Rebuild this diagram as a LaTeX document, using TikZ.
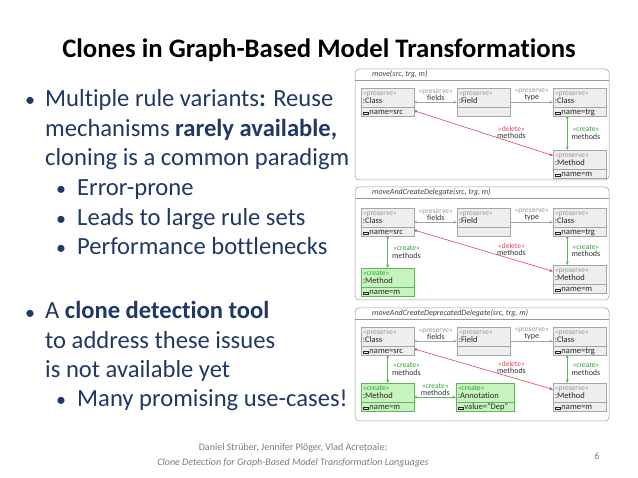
\documentclass[tikz,border=0pt]{standalone}
\usepackage{fontspec}
\setmainfont{Carlito}[Ligatures=NoCommon]
\usetikzlibrary{arrows.meta}

\definecolor{slideblue}{RGB}{31,56,100}
\definecolor{pregray}{RGB}{238,238,238}
\definecolor{preline}{RGB}{165,165,165}
\definecolor{stgray}{RGB}{150,150,150}
\definecolor{crfill}{RGB}{198,244,188}
\definecolor{crline}{RGB}{95,180,95}
\definecolor{crtext}{RGB}{40,160,40}
\definecolor{delred}{RGB}{225,70,85}
\definecolor{footgray}{RGB}{125,125,125}

% stereotypes, the attribute icon and struts for the object boxes
\newcommand{\stpres}{{\fontsize{7.5}{8}\selectfont\color{stgray}«preserve»}}
\newcommand{\stcr}{{\fontsize{7.5}{8}\selectfont\color{crtext}«create»}}
\newcommand{\stdel}{{\fontsize{7.5}{8}\selectfont\color{delred}«delete»}}
\newcommand{\attr}{{\fboxsep=0pt\fboxrule=0.4pt\fbox{\rule{0pt}{2.4pt}\hspace{4.5pt}}}\,}
\newcommand{\objtop}{\rule{0pt}{7pt}}
\newcommand{\objbot}{\rule[-1.5pt]{0pt}{0pt}}

\begin{document}
\begin{tikzpicture}[
    x=1pt, y=-1pt,
    compart/.style= {path picture={\draw[#1, line width=0.5pt]
                       ([yshift=-19pt]path picture bounding box.north west) --
                       ([yshift=-19pt]path picture bounding box.north east);}},
    obj/.style    = {anchor=north west, draw=preline, fill=pregray, compart=preline,
                     minimum height=28pt, text width=50pt, align=left,
                     inner xsep=1.5pt, inner ysep=0.25pt, line width=0.5pt,
                     font=\fontsize{8.5}{8.5}\selectfont, text=black!85},
    crobj/.style  = {obj, draw=crline, fill=crfill, compart=crline},
    panel/.style  = {draw=black!40, line width=0.5pt, rounded corners=4pt},
    edge/.style   = {draw=preline, line width=0.6pt},
    contain/.style= {edge, {Diamond[length=3pt,width=2.6pt]}-{Stealth[length=3.5pt,width=3pt]}},
    elabel/.style = {align=center, inner sep=1pt, font=\fontsize{8}{7.5}\selectfont, text=black!80},
    item/.style   = {anchor=base west, align=left, inner sep=0pt, text=slideblue,
                     font=\fontsize{24.6}{29.5}\selectfont},
    bul/.style    = {anchor=base, inner sep=0pt, text=slideblue, font=\fontsize{20}{24}\selectfont},
    foot/.style   = {anchor=base, inner sep=0pt, text=footgray, font=\fontsize{10}{12}\selectfont}
]
\useasboundingbox (0,0) rectangle (638,478);
\fill[white] (0,0) rectangle (638,478);

% title
\node[anchor=base, inner sep=0pt, font=\fontsize{26.7}{30}\selectfont\bfseries] (title) at (319,58)
    {Clones in Graph-Based Model Transformations};

% bullet points (multi-line items sit on their last baseline)
\node[bul] (b1) at (30,107) {•};
\node[item] (t1) at (45,166) {Multiple rule variants\textbf{:} Reuse\\
    mechanisms \textbf{rarely available,}\\cloning is a common paradigm};
\foreach \y/\t in {196/Error-prone, 226/Leads to large rule sets, 255/Performance bottlenecks} {
    \node[bul] (sb\y) at (61,\y) {•};
    \node[item] (st\y) at (77,\y) {\t};
}
\node[bul] (b2) at (30,320) {•};
\node[item] (t2) at (45,378) {A \textbf{clone detection tool}\\
    to address these issues\\is not available yet};
\node[bul] (sb407) at (61,407) {•};
\node[item] (st407) at (77,407) {Many promising use-cases!};

% rule panels
\foreach \p/\top/\bot/\name in {1/69/180/{move(src, trg, m)},
        2/187/300/{moveAndCreateDelegate(src, trg, m)},
        3/308/421/{moveAndCreateDeprecatedDelegate(src, trg, m)}} {
    \draw[panel] (355,\top) rectangle (609,\bot);
    \draw[draw=black!40, line width=0.5pt] (355,\top+11) -- (609,\top+11);
    \node[anchor=west, inner sep=0pt, font=\fontsize{8}{9}\selectfont\itshape, text=black!75]
        (name\p) at (372,\top+5.5) {\name};
}

% common upper row: Class -- fields --> Field -- type --> Class
\foreach \p/\y in {1/88, 2/208, 3/327} {
    \node[obj] (src\p) at (361,\y) {\objtop\stpres\\:Class\\[2pt]\attr name=src\objbot};
    \node[obj] (fld\p) at (457,\y) {\objtop\stpres\\:Field\\[2pt]\objbot};
    \node[obj] (trg\p) at (553,\y) {\objtop\stpres\\:Class\\[2pt]\attr name=trg\objbot};
    \draw[contain] (src\p) -- (fld\p) node[elabel, midway, above] {\stpres\\fields};
    \draw[edge, -{Stealth[length=3.5pt,width=3pt]}] (fld\p) -- (trg\p)
        node[elabel, midway, above] {\stpres\\type};
}

% lower objects
\node[obj] (mp1) at (553,150) {\objtop\stpres\\:Method\\[2pt]\attr name=m\objbot};
\node[obj] (mp2) at (553,265) {\objtop\stpres\\:Method\\[2pt]\attr name=m\objbot};
\node[crobj] (mc2) at (361,268) {\objtop\stcr\\:Method\\[2pt]\attr name=m\objbot};
\node[obj] (mp3) at (553,383) {\objtop\stpres\\:Method\\[2pt]\attr name=m\objbot};
\node[crobj] (mc3) at (361,383) {\objtop\stcr\\:Method\\[2pt]\attr name=m\objbot};
\node[crobj, text width=55pt] (an3) at (456,383)
    {\objtop\stcr\\:Annotation\\[2pt]\attr value="Dep"\objbot};

% methods references
\foreach \p in {1,2,3} {
    \draw[contain, draw=delred] (src\p) -- (mp\p)
        node[elabel, pos=0.7, above=2pt] {\stdel\\methods};
    \draw[contain, draw=crline] ([xshift=-12.5pt]trg\p.south) -- ([xshift=-12.5pt]mp\p.north)
        node[elabel, midway, right=3pt] {\stcr\\methods};
}
\foreach \p in {2,3}
    \draw[contain, draw=crline] (src\p) -- (mc\p)
        node[elabel, midway, right=3pt] {\stcr\\methods};
\draw[contain, draw=crline] (mc3) -- (an3) node[elabel, midway, above] {\stcr\\methods};

% footer
\node[foot] (f1) at (293,451) {Daniel Strüber, Jennifer Plöger, Vlad Acrețoaie:};
\node[foot, font=\fontsize{10}{12}\selectfont\itshape] (f2) at (293,466)
    {Clone Detection for Graph-Based Model Transformation Languages};
\node[foot] (page) at (597,460) {6};

\end{tikzpicture}
\end{document}
